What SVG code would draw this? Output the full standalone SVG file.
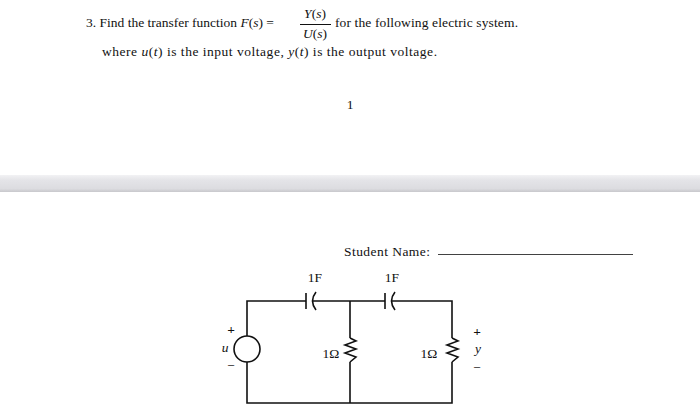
<svg xmlns="http://www.w3.org/2000/svg" width="700" height="415" viewBox="0 0 700 415">
<defs>
<style>
text{font-family:"Liberation Serif","DejaVu Serif",serif;fill:#111;font-size:13.5px}
.i{font-style:italic}
.w{stroke:#111;stroke-width:1.6;fill:none}
</style>
<linearGradient id="band" x1="0" y1="0" x2="0" y2="1">
<stop offset="0" stop-color="#f2f2f4"/><stop offset="0.3" stop-color="#e4e4e8"/><stop offset="0.8" stop-color="#dcdce0"/><stop offset="1" stop-color="#c8c8cc"/>
</linearGradient>
</defs>
<rect width="700" height="415" fill="#fff"/>
<text x="86" y="27">3. Find the transfer function <tspan class="i">F</tspan>(<tspan class="i">s</tspan>) =</text>
<text x="315" y="18" text-anchor="middle"><tspan class="i">Y</tspan>(<tspan class="i">s</tspan>)</text>
<line x1="300" y1="24.5" x2="331" y2="24.5" stroke="#111" stroke-width="1"/>
<text x="315" y="38" text-anchor="middle"><tspan class="i">U</tspan>(<tspan class="i">s</tspan>)</text>
<text x="335" y="27" textLength="183">for the following electric system.</text>
<text x="102" y="56" textLength="335">where <tspan class="i">u</tspan>(<tspan class="i">t</tspan>) is the input voltage, <tspan class="i">y</tspan>(<tspan class="i">t</tspan>) is the output voltage.</text>
<text x="350" y="109" text-anchor="middle" font-size="12">1</text>
<rect x="0" y="175" width="700" height="17" fill="url(#band)"/>
<text x="344" y="256" textLength="86">Student Name:</text>
<line x1="438" y1="254.5" x2="633" y2="254.5" stroke="#111" stroke-width="0.8"/>
<g id="connectors" class="w">
<path d="M247 336 V301 H306 M313 301 H385 M392 301 H452 V338 M452 362 V403 H247 V362"/>
<path d="M350 301 V338 M350 362 V403"/>
</g>
<g id="source">
<circle cx="247" cy="349" r="13" class="w"/>
<text x="231" y="334" text-anchor="middle" font-size="12" font-weight="bold">+</text>
<text x="225" y="352" class="i" text-anchor="middle">u</text>
<text x="231" y="370" text-anchor="middle" font-size="12">−</text>
</g>
<g id="c1">
<path class="w" d="M306 293 V309 M316 292 Q309 301 316 310"/>
<text x="315" y="282" text-anchor="middle">1F</text>
</g>
<g id="c2">
<path class="w" d="M385 293 V309 M395 292 Q388 301 395 310"/>
<text x="392" y="282" text-anchor="middle">1F</text>
</g>
<g id="r1">
<path class="w" d="M350 338 L356 341 L345 345 L356 349 L345 353 L356 357 L350 362"/>
<text x="331" y="358" text-anchor="middle">1Ω</text>
</g>
<g id="r2">
<path class="w" d="M452 338 L458 341 L447 345 L458 349 L447 353 L458 357 L452 362"/>
<text x="429" y="358" text-anchor="middle">1Ω</text>
</g>
<g id="output">
<text x="477" y="336" text-anchor="middle" font-size="12" font-weight="bold">+</text>
<text x="478" y="353" class="i" text-anchor="middle">y</text>
<text x="477" y="372" text-anchor="middle" font-size="12">−</text>
</g>
</svg>
